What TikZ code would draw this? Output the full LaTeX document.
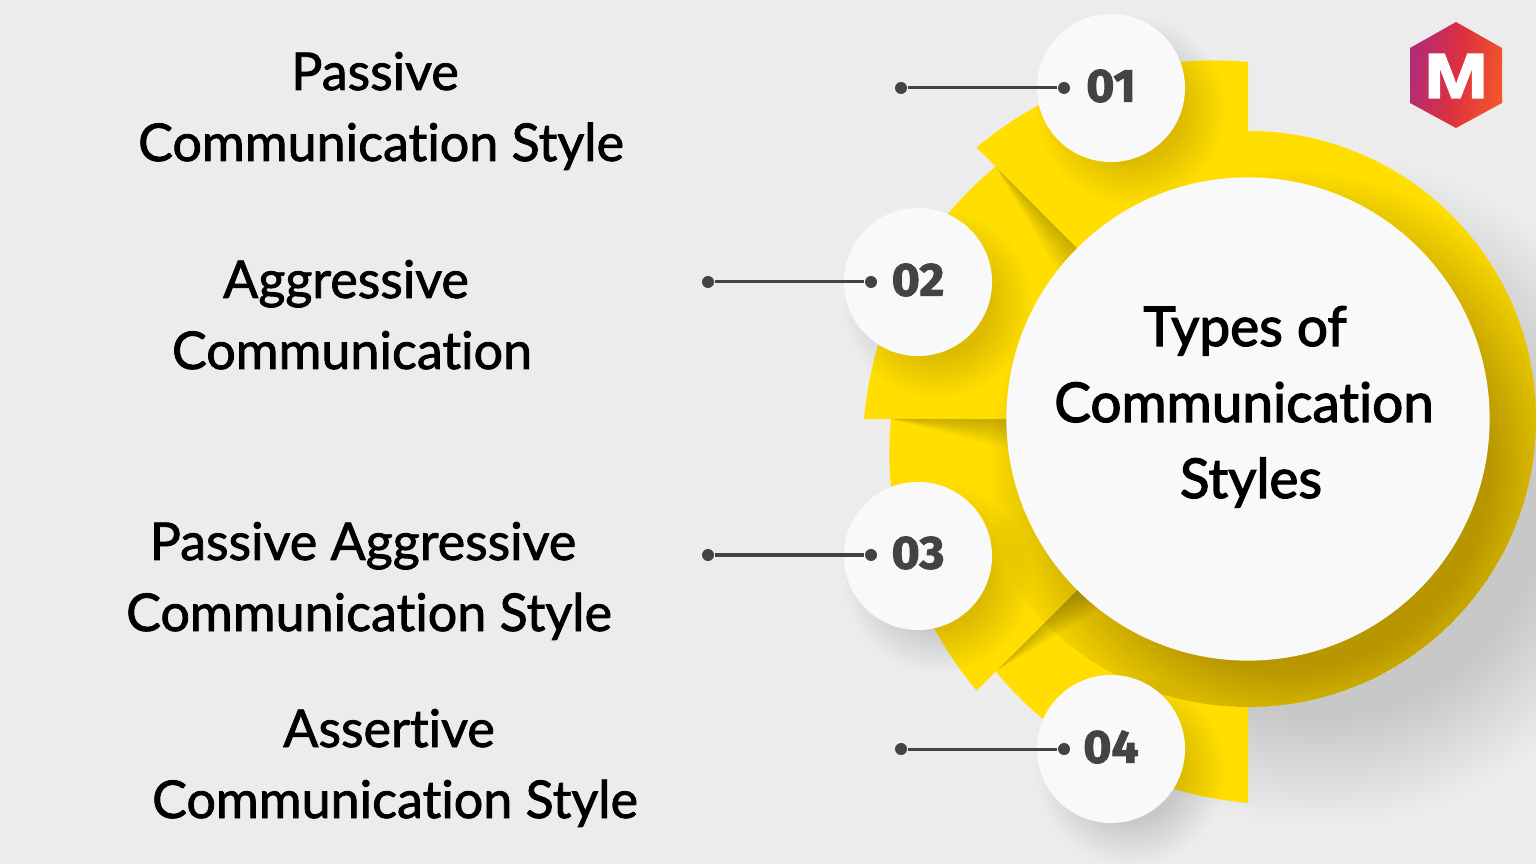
\documentclass[tikz,border=0pt]{standalone}
\usepackage{fontspec}
\setmainfont{Lato}
\newfontfamily\labelfont{Lato}[Ligatures=NoCommon,FakeBold=1.6]
\newfontfamily\titlefont{Lato}[Ligatures=NoCommon,FakeBold=2.2]
\newfontfamily\numfont{Fira Sans}[BoldFont={Fira Sans Bold},BoldFeatures={FakeBold=2,FakeStretch=1.04}]
\newfontfamily\logofont{Liberation Sans}[BoldFont={Liberation Sans Bold},BoldFeatures={FakeBold=3,FakeStretch=1.2}]
\definecolor{bgcol}{HTML}{ECECEC}
\definecolor{ringcol}{HTML}{FFDE00}
\definecolor{disccol}{HTML}{F9F9F9}
\definecolor{darkcol}{HTML}{434343}
\definecolor{logoa}{HTML}{B02C78}
\definecolor{logob}{HTML}{DC3040}
\definecolor{logoc}{HTML}{F4562A}
\tikzset{
    numdisc/.style={circle,fill=disccol,minimum size=1.48cm,inner sep=0pt},
    numtext/.style={text=darkcol,font=\numfont\bfseries\fontsize{13.2}{13.2}\selectfont},
    maindisc/.style={circle,fill=disccol,minimum size=4.83cm,inner sep=0pt},
    enddot/.style={circle,fill=darkcol,minimum size=0.12cm,inner sep=0pt},
    lead/.style={draw=darkcol,line width=0.03cm},
    labeltext/.style={anchor=base,text=black,font=\labelfont\fontsize{14.8}{14.8}\selectfont},
    titletext/.style={anchor=base,text=black,font=\titlefont\fontsize{15.6}{15.6}\selectfont},
}
% soft shadow: x, y, first radius, last radius, opacity of one step
\newcommand{\softshadow}[5]{
    \foreach \k in {0,...,35}
        \fill[black,opacity=#5] (#1,#2) circle ({#3+(#4-#3)*\k/35});
}
% one blade of the gear, from angle #1 to #1+45, its radius grows
\newcommand{\blade}[1]{
    \fill[ringcol] plot[domain=#1:#1+45,samples=30] ({1248+(357+27*(\x-#1)/45)*cos(\x)},{419-(357+27*(\x-#1)/45)*sin(\x)}) -- (1248,419) -- cycle;
}
% shadow thrown on the blade that lies under the edge at angle #1
\newcommand{\cutshadow}[1]{
    \foreach \d in {1,...,7}
        \fill[black,opacity=0.03] ({1248+357*cos(#1)},{419-357*sin(#1)}) -- ({1248+241*cos(#1)},{419-241*sin(#1)}) -- ({1248+241*cos(#1+\d)},{419-241*sin(#1+\d)}) -- cycle;
}
\begin{document}
\begin{tikzpicture}[x=0.01cm,y=-0.01cm]
    \useasboundingbox (0,0) rectangle (1536,864);
    \fill[bgcol] (0,0) rectangle (1536,864);

    % shadow of the ring on the page
    \softshadow{1320}{490}{230}{335}{0.0052}

    \fill[ringcol] (1248,419) circle (288);

    % the blades, last one first
    \blade{225}
    \cutshadow{225}
    \blade{180}
    \cutshadow{180}
    \blade{135}
    \cutshadow{135}
    \blade{90}

    % shadow of the main disc on the ring
    \begin{scope}
        \clip (1248,419) circle (288);
        \softshadow{1290}{470}{200}{300}{0.0066}
    \end{scope}

    % shadows of the numbered discs
    \softshadow{1131}{110}{50}{95}{0.0055}
    \softshadow{938}{304}{50}{95}{0.0055}
    \softshadow{938}{578}{50}{95}{0.0055}
    \softshadow{1131}{771}{50}{95}{0.0055}

    \node[maindisc] (main) at (1248,419) {};
    \node[numdisc] (n1) at (1111,88) {};
    \node[numdisc] (n2) at (918,282) {};
    \node[numdisc] (n3) at (918,556) {};
    \node[numdisc] (n4) at (1111,749) {};
    \node[numtext] (t1) at (1111,86) {01};
    \node[numtext] (t2) at (918,280) {02};
    \node[numtext] (t3) at (918,553) {03};
    \node[numtext] (t4) at (1111,747) {04};

    \node[enddot] (a1) at (901,88) {};
    \node[enddot] (b1) at (1064,88) {};
    \node[enddot] (a2) at (708,282) {};
    \node[enddot] (b2) at (871,282) {};
    \node[enddot] (a3) at (708,555) {};
    \node[enddot] (b3) at (871,555) {};
    \node[enddot] (a4) at (901,749) {};
    \node[enddot] (b4) at (1064,749) {};
    \foreach \i in {1,2,3,4}
        \draw[lead] (a\i) -- (b\i);

    \node[labeltext] (l1a) at (375,90) {Passive};
    \node[labeltext] (l1b) at (381,161) {Communication Style};
    \node[labeltext] (l2a) at (346,298) {Aggressive};
    \node[labeltext] (l2b) at (352,369) {Communication};
    \node[labeltext] (l3a) at (363,560) {Passive Aggressive};
    \node[labeltext] (l3b) at (369,631) {Communication Style};
    \node[labeltext] (l4a) at (389,747) {Assertive};
    \node[labeltext] (l4b) at (395,818) {Communication Style};

    \node[titletext] (m1) at (1245,346) {Types of};
    \node[titletext] (m2) at (1244,422) {Communication};
    \node[titletext] (m3) at (1251,498) {Styles};

    % logo
    \shade[left color=logoa,right color=logoc,middle color=logob,shading angle=80] (1456,22) -- (1502,48) -- (1502,103) -- (1456,128) -- (1410,103) -- (1410,48) -- cycle;
    \node[text=white,font=\logofont\bfseries\fontsize{18}{18}\selectfont] (logo) at (1456,76) {M};
\end{tikzpicture}
\end{document}
